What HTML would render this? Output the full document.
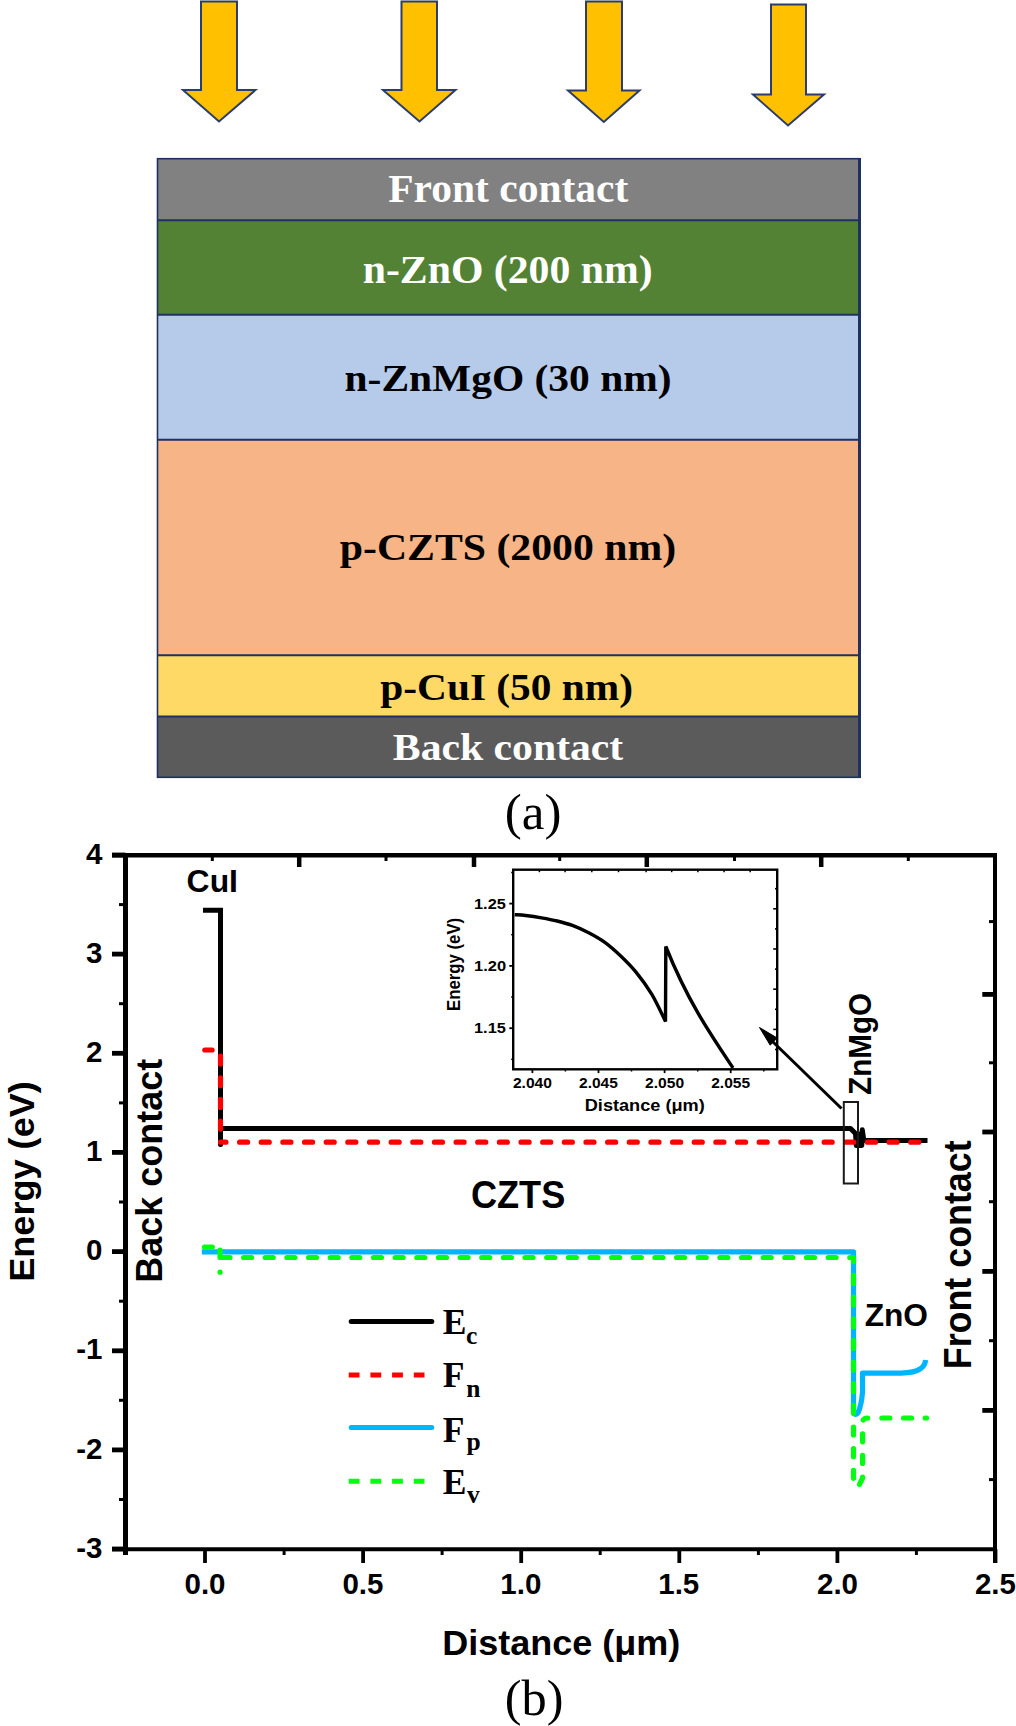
<!DOCTYPE html>
<html><head><meta charset="utf-8"><title>Solar cell structure and band diagram</title>
<style>
html,body{margin:0;padding:0;background:#fff;}
body{width:1016px;height:1726px;overflow:hidden;}
svg{display:block;}
</style></head>
<body>
<svg width="1016" height="1726" viewBox="0 0 1016 1726">
<rect width="1016" height="1726" fill="#fff"/>
<path d="M201,1.5 L237,1.5 L237,90 L255.5,90 L219,121.5 L183,90 L201,90 Z" fill="#FFC000" stroke="#2B3D6B" stroke-width="2" stroke-linejoin="miter"/>
<path d="M401.5,1.5 L437,1.5 L437,90 L455.5,90 L419.5,121.5 L383,90 L401.5,90 Z" fill="#FFC000" stroke="#2B3D6B" stroke-width="2" stroke-linejoin="miter"/>
<path d="M586,1.5 L622,1.5 L622,90.5 L639.5,90.5 L603.8,122 L568,90.5 L586,90.5 Z" fill="#FFC000" stroke="#2B3D6B" stroke-width="2" stroke-linejoin="miter"/>
<path d="M771,4.5 L806,4.5 L806,94.5 L824,94.5 L788,125.5 L753,94.5 L771,94.5 Z" fill="#FFC000" stroke="#2B3D6B" stroke-width="2" stroke-linejoin="miter"/>
<rect x="157.5" y="158.7" width="702.0" height="61.5" fill="#818181"/>
<rect x="157.5" y="220.2" width="702.0" height="94.60000000000002" fill="#548235"/>
<rect x="157.5" y="314.8" width="702.0" height="125.0" fill="#B6CAEA"/>
<rect x="157.5" y="439.8" width="702.0" height="215.49999999999994" fill="#F7B486"/>
<rect x="157.5" y="655.3" width="702.0" height="61.200000000000045" fill="#FED966"/>
<rect x="157.5" y="716.5" width="702.0" height="60.799999999999955" fill="#5B5B5B"/>
<line x1="157.5" y1="220.2" x2="859.5" y2="220.2" stroke="#1F3160" stroke-width="2"/>
<line x1="157.5" y1="314.8" x2="859.5" y2="314.8" stroke="#1F3160" stroke-width="2"/>
<line x1="157.5" y1="439.8" x2="859.5" y2="439.8" stroke="#1F3160" stroke-width="2"/>
<line x1="157.5" y1="655.3" x2="859.5" y2="655.3" stroke="#1F3160" stroke-width="2"/>
<line x1="157.5" y1="716.5" x2="859.5" y2="716.5" stroke="#1F3160" stroke-width="2"/>
<rect x="157.5" y="158.7" width="702.0" height="618.5999999999999" fill="none" stroke="#1F3160" stroke-width="1.6"/>
<line x1="859.5" y1="158" x2="859.5" y2="778" stroke="#1F3160" stroke-width="3"/>
<text x="388.27" y="202.10" font-family="'Liberation Serif', 'Times New Roman', serif" font-weight="bold" font-size="39.08" fill="#fff" textLength="240.06" lengthAdjust="spacingAndGlyphs">Front contact</text>
<text x="362.75" y="282.50" font-family="'Liberation Serif', 'Times New Roman', serif" font-weight="bold" font-size="39.85" fill="#fff" textLength="289.84" lengthAdjust="spacingAndGlyphs">n-ZnO (200 nm)</text>
<text x="344.56" y="390.90" font-family="'Liberation Serif', 'Times New Roman', serif" font-weight="bold" font-size="38.32" fill="#000" textLength="326.97" lengthAdjust="spacingAndGlyphs">n-ZnMgO (30 nm)</text>
<text x="339.78" y="559.90" font-family="'Liberation Serif', 'Times New Roman', serif" font-weight="bold" font-size="37.56" fill="#000" textLength="336.47" lengthAdjust="spacingAndGlyphs">p-CZTS (2000 nm)</text>
<text x="380.38" y="699.80" font-family="'Liberation Serif', 'Times New Roman', serif" font-weight="bold" font-size="37.40" fill="#000" textLength="252.55" lengthAdjust="spacingAndGlyphs">p-CuI (50 nm)</text>
<text x="392.87" y="759.90" font-family="'Liberation Serif', 'Times New Roman', serif" font-weight="bold" font-size="37.56" fill="#fff" textLength="230.41" lengthAdjust="spacingAndGlyphs">Back contact</text>
<text x="504.73" y="828.50" font-family="'Liberation Serif', 'Times New Roman', serif" font-weight="normal" font-size="50.50" fill="#000" textLength="56.74" lengthAdjust="spacingAndGlyphs">(a)</text>
<line x1="125.5" y1="852.9000000000001" x2="125.5" y2="1555" stroke="#000" stroke-width="5"/>
<line x1="112" y1="855.2" x2="997" y2="855.2" stroke="#000" stroke-width="4.5"/>
<line x1="995" y1="853.2" x2="995" y2="1563" stroke="#000" stroke-width="4"/>
<line x1="112" y1="1549.2" x2="997" y2="1549.2" stroke="#000" stroke-width="4"/>
<line x1="112" y1="1549.0" x2="125.5" y2="1549.0" stroke="#000" stroke-width="4.8"/>
<line x1="112" y1="1449.9" x2="125.5" y2="1449.9" stroke="#000" stroke-width="4.8"/>
<line x1="112" y1="1350.8" x2="125.5" y2="1350.8" stroke="#000" stroke-width="4.8"/>
<line x1="112" y1="1251.6" x2="125.5" y2="1251.6" stroke="#000" stroke-width="4.8"/>
<line x1="112" y1="1152.4" x2="125.5" y2="1152.4" stroke="#000" stroke-width="4.8"/>
<line x1="112" y1="1053.3" x2="125.5" y2="1053.3" stroke="#000" stroke-width="4.8"/>
<line x1="112" y1="954.1" x2="125.5" y2="954.1" stroke="#000" stroke-width="4.8"/>
<line x1="112" y1="855.0" x2="125.5" y2="855.0" stroke="#000" stroke-width="4.8"/>
<line x1="119" y1="1499.5" x2="125.5" y2="1499.5" stroke="#000" stroke-width="3"/>
<line x1="119" y1="1400.3" x2="125.5" y2="1400.3" stroke="#000" stroke-width="3"/>
<line x1="119" y1="1301.2" x2="125.5" y2="1301.2" stroke="#000" stroke-width="3"/>
<line x1="119" y1="1202.0" x2="125.5" y2="1202.0" stroke="#000" stroke-width="3"/>
<line x1="119" y1="1102.9" x2="125.5" y2="1102.9" stroke="#000" stroke-width="3"/>
<line x1="119" y1="1003.7" x2="125.5" y2="1003.7" stroke="#000" stroke-width="3"/>
<line x1="119" y1="904.6" x2="125.5" y2="904.6" stroke="#000" stroke-width="3"/>
<line x1="989" y1="921.6" x2="995" y2="921.6" stroke="#000" stroke-width="3"/>
<line x1="982.3" y1="994.4" x2="995" y2="994.4" stroke="#000" stroke-width="4.8"/>
<line x1="989" y1="1062.8" x2="995" y2="1062.8" stroke="#000" stroke-width="3"/>
<line x1="982.3" y1="1132" x2="995" y2="1132" stroke="#000" stroke-width="4.8"/>
<line x1="989" y1="1201.7" x2="995" y2="1201.7" stroke="#000" stroke-width="3"/>
<line x1="982.3" y1="1271.4" x2="995" y2="1271.4" stroke="#000" stroke-width="4.8"/>
<line x1="989" y1="1340.7" x2="995" y2="1340.7" stroke="#000" stroke-width="3"/>
<line x1="982.3" y1="1410.4" x2="995" y2="1410.4" stroke="#000" stroke-width="4.8"/>
<line x1="989" y1="1479.6" x2="995" y2="1479.6" stroke="#000" stroke-width="3"/>
<line x1="212.3" y1="855.2" x2="212.3" y2="861" stroke="#000" stroke-width="3"/>
<line x1="299.2" y1="855.2" x2="299.2" y2="867" stroke="#000" stroke-width="4.5"/>
<line x1="386" y1="855.2" x2="386" y2="861" stroke="#000" stroke-width="3"/>
<line x1="474" y1="855.2" x2="474" y2="867" stroke="#000" stroke-width="4.5"/>
<line x1="559.7" y1="855.2" x2="559.7" y2="861" stroke="#000" stroke-width="3"/>
<line x1="646.8" y1="855.2" x2="646.8" y2="867" stroke="#000" stroke-width="4.5"/>
<line x1="734.5" y1="855.2" x2="734.5" y2="861" stroke="#000" stroke-width="3"/>
<line x1="821.2" y1="855.2" x2="821.2" y2="867" stroke="#000" stroke-width="4.5"/>
<line x1="908.3" y1="855.2" x2="908.3" y2="861" stroke="#000" stroke-width="3"/>
<line x1="205.0" y1="1549.2" x2="205.0" y2="1563" stroke="#000" stroke-width="3.8"/>
<line x1="363.1" y1="1549.2" x2="363.1" y2="1563" stroke="#000" stroke-width="3.8"/>
<line x1="521.2" y1="1549.2" x2="521.2" y2="1563" stroke="#000" stroke-width="3.8"/>
<line x1="679.3" y1="1549.2" x2="679.3" y2="1563" stroke="#000" stroke-width="3.8"/>
<line x1="837.4" y1="1549.2" x2="837.4" y2="1563" stroke="#000" stroke-width="3.8"/>
<line x1="995.5" y1="1549.2" x2="995.5" y2="1563" stroke="#000" stroke-width="3.8"/>
<line x1="284.1" y1="1549.2" x2="284.1" y2="1555" stroke="#000" stroke-width="3"/>
<line x1="442.1" y1="1549.2" x2="442.1" y2="1555" stroke="#000" stroke-width="3"/>
<line x1="600.2" y1="1549.2" x2="600.2" y2="1555" stroke="#000" stroke-width="3"/>
<line x1="758.4" y1="1549.2" x2="758.4" y2="1555" stroke="#000" stroke-width="3"/>
<line x1="916.4" y1="1549.2" x2="916.4" y2="1555" stroke="#000" stroke-width="3"/>
<text x="102.40" y="1557.65" text-anchor="end" font-family="'Liberation Sans', Arial, sans-serif" font-weight="bold" font-size="29.50" fill="#000">-3</text>
<text x="102.40" y="1458.50" text-anchor="end" font-family="'Liberation Sans', Arial, sans-serif" font-weight="bold" font-size="29.50" fill="#000">-2</text>
<text x="102.40" y="1359.35" text-anchor="end" font-family="'Liberation Sans', Arial, sans-serif" font-weight="bold" font-size="29.50" fill="#000">-1</text>
<text x="102.40" y="1260.20" text-anchor="end" font-family="'Liberation Sans', Arial, sans-serif" font-weight="bold" font-size="29.50" fill="#000">0</text>
<text x="102.40" y="1161.05" text-anchor="end" font-family="'Liberation Sans', Arial, sans-serif" font-weight="bold" font-size="29.50" fill="#000">1</text>
<text x="102.40" y="1061.90" text-anchor="end" font-family="'Liberation Sans', Arial, sans-serif" font-weight="bold" font-size="29.50" fill="#000">2</text>
<text x="102.40" y="962.75" text-anchor="end" font-family="'Liberation Sans', Arial, sans-serif" font-weight="bold" font-size="29.50" fill="#000">3</text>
<text x="102.40" y="863.60" text-anchor="end" font-family="'Liberation Sans', Arial, sans-serif" font-weight="bold" font-size="29.50" fill="#000">4</text>
<text x="184.50" y="1594.40" font-family="'Liberation Sans', Arial, sans-serif" font-weight="bold" font-size="29.50" fill="#000">0.0</text>
<text x="342.41" y="1594.40" font-family="'Liberation Sans', Arial, sans-serif" font-weight="bold" font-size="29.50" fill="#000">0.5</text>
<text x="500.37" y="1594.40" font-family="'Liberation Sans', Arial, sans-serif" font-weight="bold" font-size="29.50" fill="#000">1.0</text>
<text x="658.28" y="1594.40" font-family="'Liberation Sans', Arial, sans-serif" font-weight="bold" font-size="29.50" fill="#000">1.5</text>
<text x="816.97" y="1594.40" font-family="'Liberation Sans', Arial, sans-serif" font-weight="bold" font-size="29.50" fill="#000">2.0</text>
<text x="974.89" y="1594.40" font-family="'Liberation Sans', Arial, sans-serif" font-weight="bold" font-size="29.50" fill="#000">2.5</text>
<text transform="translate(33.60,1281.74) rotate(-90)" x="0" y="0" font-family="'Liberation Sans', Arial, sans-serif" font-weight="bold" font-size="34.91" fill="#000" textLength="200.53" lengthAdjust="spacingAndGlyphs">Energy (eV)</text>
<text x="442.17" y="1655.20" font-family="'Liberation Sans', Arial, sans-serif" font-weight="bold" font-size="34.76" fill="#000" textLength="238.17" lengthAdjust="spacingAndGlyphs">Distance (μm)</text>
<text x="504.76" y="1715.30" font-family="'Liberation Serif', 'Times New Roman', serif" font-weight="normal" font-size="50.50" fill="#000" textLength="58.73" lengthAdjust="spacingAndGlyphs">(b)</text>
<text x="186.62" y="891.70" font-family="'Liberation Sans', Arial, sans-serif" font-weight="bold" font-size="32.00" fill="#000" textLength="51.36" lengthAdjust="spacingAndGlyphs">CuI</text>
<text x="470.95" y="1207.60" font-family="'Liberation Sans', Arial, sans-serif" font-weight="bold" font-size="38.40" fill="#000" textLength="94.33" lengthAdjust="spacingAndGlyphs">CZTS</text>
<text x="864.65" y="1325.70" font-family="'Liberation Sans', Arial, sans-serif" font-weight="bold" font-size="30.98" fill="#000" textLength="63.38" lengthAdjust="spacingAndGlyphs">ZnO</text>
<text transform="translate(870.80,1094.89) rotate(-90)" x="0" y="0" font-family="'Liberation Sans', Arial, sans-serif" font-weight="bold" font-size="31.13" fill="#000" textLength="101.87" lengthAdjust="spacingAndGlyphs">ZnMgO</text>
<text transform="translate(162.00,1282.73) rotate(-90)" x="0" y="0" font-family="'Liberation Sans', Arial, sans-serif" font-weight="bold" font-size="36.95" fill="#000" textLength="223.97" lengthAdjust="spacingAndGlyphs">Back contact</text>
<text transform="translate(970.70,1369.22) rotate(-90)" x="0" y="0" font-family="'Liberation Sans', Arial, sans-serif" font-weight="bold" font-size="38.11" fill="#000" textLength="228.81" lengthAdjust="spacingAndGlyphs">Front contact</text>
<path d="M203,910.2 H220.5 V1144.6" fill="none" stroke="#000" stroke-width="5" stroke-linejoin="miter"/>
<circle cx="220.5" cy="1144.6" r="2.5" fill="#000"/>
<path d="M220.5,1128.4 H850.5 L855.5,1133.5 L856.3,1145.5 L861.8,1145.5 L862.3,1129.8 L863.8,1140.4 H927.5" fill="none" stroke="#000" stroke-width="5" stroke-linejoin="round"/>
<path d="M855,1134 L862.5,1130 L864.5,1140 L862,1146 L856,1146 Z" fill="#000"/>
<path d="M204.8,1050 H212.1" fill="none" stroke="#FF0000" stroke-width="5.2" stroke-linecap="round"/>
<path d="M220.5,1056.1 V1139" fill="none" stroke="#FF0000" stroke-width="5.2" stroke-dasharray="8.0 13.65" stroke-dashoffset="0.00" stroke-linecap="round" stroke-linejoin="round" />
<path d="M220.5,1142.2 H927" fill="none" stroke="#FF0000" stroke-width="5.2" stroke-dasharray="8.0 13.65" stroke-dashoffset="2.55" stroke-linecap="round" stroke-linejoin="round" />
<path d="M201.8,1251.9 H853.5 V1413 Q855,1416 858,1413 Q861.5,1405 862.5,1392 V1373.2 H901 Q915,1372.5 920,1369 Q925,1366 925.6,1360" fill="none" stroke="#00B4FF" stroke-width="5.2" stroke-linejoin="round"/>
<path d="M204.5,1247 H212.3" fill="none" stroke="#00FF10" stroke-width="5.2" stroke-linecap="round"/>
<path d="M220,1250 V1257.5 H230" fill="none" stroke="#00FF10" stroke-width="5.2" stroke-linecap="round" stroke-linejoin="round"/>
<circle cx="220.1" cy="1272.2" r="2.6" fill="#00FF10"/>
<path d="M243.6,1257.5 H853.5 V1478 L858,1487.5 L862.6,1478 V1423 Q862.6,1418 867.6,1418" fill="none" stroke="#00FF10" stroke-width="5.2" stroke-dasharray="8.0 13.65" stroke-dashoffset="0.00" stroke-linecap="round" stroke-linejoin="round" />
<path d="M881.9,1418 H926.5" fill="none" stroke="#00FF10" stroke-width="5.2" stroke-dasharray="8.0 13.65" stroke-dashoffset="0.00" stroke-linecap="round" stroke-linejoin="round" />
<line x1="351.2" y1="1321.5" x2="431.8" y2="1321.5" stroke="#000" stroke-width="5" stroke-linecap="round"/>
<line x1="348.7" y1="1375" x2="424.5" y2="1375" stroke="#FF0000" stroke-width="5" stroke-dasharray="10.8 10.9"/>
<line x1="351.2" y1="1427.5" x2="431.8" y2="1427.5" stroke="#00B4FF" stroke-width="5" stroke-linecap="round"/>
<line x1="348.7" y1="1481.2" x2="424.5" y2="1481.2" stroke="#00FF10" stroke-width="5" stroke-dasharray="10.8 10.9"/>
<text x="442.68" y="1334.30" font-family="'Liberation Serif', 'Times New Roman', serif" font-weight="bold" font-size="35.57" fill="#000">E</text>
<text x="466.01" y="1344.00" font-family="'Liberation Serif', 'Times New Roman', serif" font-weight="bold" font-size="25.50" fill="#000">c</text>
<text x="442.68" y="1387.20" font-family="'Liberation Serif', 'Times New Roman', serif" font-weight="bold" font-size="35.57" fill="#000">F</text>
<text x="466.20" y="1396.60" font-family="'Liberation Serif', 'Times New Roman', serif" font-weight="bold" font-size="25.50" fill="#000">n</text>
<text x="442.68" y="1441.60" font-family="'Liberation Serif', 'Times New Roman', serif" font-weight="bold" font-size="35.57" fill="#000">F</text>
<text x="466.58" y="1449.50" font-family="'Liberation Serif', 'Times New Roman', serif" font-weight="bold" font-size="25.50" fill="#000">p</text>
<text x="442.68" y="1493.60" font-family="'Liberation Serif', 'Times New Roman', serif" font-weight="bold" font-size="35.57" fill="#000">E</text>
<text x="466.90" y="1503.00" font-family="'Liberation Serif', 'Times New Roman', serif" font-weight="bold" font-size="25.50" fill="#000">v</text>
<rect x="513.2" y="869.7" width="264.0" height="199.5999999999999" fill="#fff" stroke="#000" stroke-width="2.4"/>
<line x1="509.3" y1="903.6" x2="513.2" y2="903.6" stroke="#000" stroke-width="1.8"/>
<line x1="509.3" y1="965.9" x2="513.2" y2="965.9" stroke="#000" stroke-width="1.8"/>
<line x1="509.3" y1="1028.2" x2="513.2" y2="1028.2" stroke="#000" stroke-width="1.8"/>
<line x1="511.2" y1="872.5" x2="513.2" y2="872.5" stroke="#000" stroke-width="1.5"/>
<line x1="511.2" y1="934.7" x2="513.2" y2="934.7" stroke="#000" stroke-width="1.5"/>
<line x1="511.2" y1="997.0" x2="513.2" y2="997.0" stroke="#000" stroke-width="1.5"/>
<line x1="511.2" y1="1059.3" x2="513.2" y2="1059.3" stroke="#000" stroke-width="1.5"/>
<line x1="532.4" y1="1069.3" x2="532.4" y2="1073.1" stroke="#000" stroke-width="1.8"/>
<line x1="598.5" y1="1069.3" x2="598.5" y2="1073.1" stroke="#000" stroke-width="1.8"/>
<line x1="664.6" y1="1069.3" x2="664.6" y2="1073.1" stroke="#000" stroke-width="1.8"/>
<line x1="730.7" y1="1069.3" x2="730.7" y2="1073.1" stroke="#000" stroke-width="1.8"/>
<line x1="565.4" y1="1069.3" x2="565.4" y2="1071.5" stroke="#000" stroke-width="1.5"/>
<line x1="631.5" y1="1069.3" x2="631.5" y2="1071.5" stroke="#000" stroke-width="1.5"/>
<line x1="697.7" y1="1069.3" x2="697.7" y2="1071.5" stroke="#000" stroke-width="1.5"/>
<line x1="763.8" y1="1069.3" x2="763.8" y2="1071.5" stroke="#000" stroke-width="1.5"/>
<line x1="777.2" y1="888.7" x2="775.0" y2="888.7" stroke="#000" stroke-width="1.6"/>
<line x1="777.2" y1="908.8" x2="773.2" y2="908.8" stroke="#000" stroke-width="1.6"/>
<line x1="777.2" y1="928.9" x2="775.0" y2="928.9" stroke="#000" stroke-width="1.6"/>
<line x1="777.2" y1="949.0" x2="773.2" y2="949.0" stroke="#000" stroke-width="1.6"/>
<line x1="777.2" y1="969.1" x2="775.0" y2="969.1" stroke="#000" stroke-width="1.6"/>
<line x1="777.2" y1="989.2" x2="773.2" y2="989.2" stroke="#000" stroke-width="1.6"/>
<line x1="777.2" y1="1009.3" x2="775.0" y2="1009.3" stroke="#000" stroke-width="1.6"/>
<line x1="777.2" y1="1029.4" x2="773.2" y2="1029.4" stroke="#000" stroke-width="1.6"/>
<line x1="777.2" y1="1049.5" x2="775.0" y2="1049.5" stroke="#000" stroke-width="1.6"/>
<line x1="539.4" y1="869.7" x2="539.4" y2="872.2" stroke="#000" stroke-width="1.5"/>
<line x1="565.1" y1="869.7" x2="565.1" y2="872.2" stroke="#000" stroke-width="1.5"/>
<line x1="591.8" y1="869.7" x2="591.8" y2="872.2" stroke="#000" stroke-width="1.5"/>
<line x1="618.5" y1="869.7" x2="618.5" y2="872.2" stroke="#000" stroke-width="1.5"/>
<line x1="646.1" y1="869.7" x2="646.1" y2="872.2" stroke="#000" stroke-width="1.5"/>
<line x1="671.7" y1="869.7" x2="671.7" y2="872.2" stroke="#000" stroke-width="1.5"/>
<line x1="697.9" y1="869.7" x2="697.9" y2="872.2" stroke="#000" stroke-width="1.5"/>
<line x1="724.1" y1="869.7" x2="724.1" y2="872.2" stroke="#000" stroke-width="1.5"/>
<line x1="750.2" y1="869.7" x2="750.2" y2="872.2" stroke="#000" stroke-width="1.5"/>
<text x="473.98" y="908.80" font-family="'Liberation Sans', Arial, sans-serif" font-weight="bold" font-size="15.13" fill="#000" textLength="31.90" lengthAdjust="spacingAndGlyphs">1.25</text>
<text x="473.97" y="971.10" font-family="'Liberation Sans', Arial, sans-serif" font-weight="bold" font-size="15.13" fill="#000" textLength="32.11" lengthAdjust="spacingAndGlyphs">1.20</text>
<text x="473.98" y="1033.40" font-family="'Liberation Sans', Arial, sans-serif" font-weight="bold" font-size="15.13" fill="#000" textLength="31.90" lengthAdjust="spacingAndGlyphs">1.15</text>
<text x="512.90" y="1088.20" font-family="'Liberation Sans', Arial, sans-serif" font-weight="bold" font-size="14.11" fill="#000" textLength="39.07" lengthAdjust="spacingAndGlyphs">2.040</text>
<text x="579.01" y="1088.20" font-family="'Liberation Sans', Arial, sans-serif" font-weight="bold" font-size="14.11" fill="#000" textLength="38.87" lengthAdjust="spacingAndGlyphs">2.045</text>
<text x="645.10" y="1088.20" font-family="'Liberation Sans', Arial, sans-serif" font-weight="bold" font-size="14.11" fill="#000" textLength="39.07" lengthAdjust="spacingAndGlyphs">2.050</text>
<text x="711.21" y="1088.20" font-family="'Liberation Sans', Arial, sans-serif" font-weight="bold" font-size="14.11" fill="#000" textLength="38.87" lengthAdjust="spacingAndGlyphs">2.055</text>
<text x="584.78" y="1110.60" font-family="'Liberation Sans', Arial, sans-serif" font-weight="bold" font-size="17.02" fill="#000" textLength="119.95" lengthAdjust="spacingAndGlyphs">Distance (μm)</text>
<text transform="translate(460.40,1010.93) rotate(-90)" x="0" y="0" font-family="'Liberation Sans', Arial, sans-serif" font-weight="bold" font-size="17.60" fill="#000" textLength="93.06" lengthAdjust="spacingAndGlyphs">Energy (eV)</text>
<path d="M514.7,914.7 C516.53,914.83 521.23,914.98 525.7,915.5 C530.17,916.02 536.25,916.88 541.5,917.8 C546.75,918.72 551.95,919.68 557.2,921 C562.45,922.32 567.75,923.73 573,925.7 C578.25,927.67 583.45,930.05 588.7,932.8 C593.95,935.55 599.25,938.40 604.5,942.2 C609.75,946.00 614.95,950.60 620.2,955.6 C625.45,960.60 630.75,965.77 636,972.2 C641.25,978.63 646.78,986.00 651.7,994.2 C656.62,1002.40 663.20,1016.87 665.5,1021.4 L665.8,946.5 C687.8,1001.5 711,1035 733,1067.9" fill="none" stroke="#000" stroke-width="3.4" stroke-linejoin="miter" stroke-miterlimit="3"/>
<rect x="843.8" y="1102" width="14.2" height="81.5" fill="none" stroke="#1a1a1a" stroke-width="2"/>
<line x1="841.5" y1="1108.5" x2="770" y2="1039" stroke="#000" stroke-width="3"/>
<path d="M759.5,1027.5 L777.2,1038 L770.2,1045.2 Z" fill="#000" stroke="#000" stroke-width="1"/>
</svg>
</body></html>
